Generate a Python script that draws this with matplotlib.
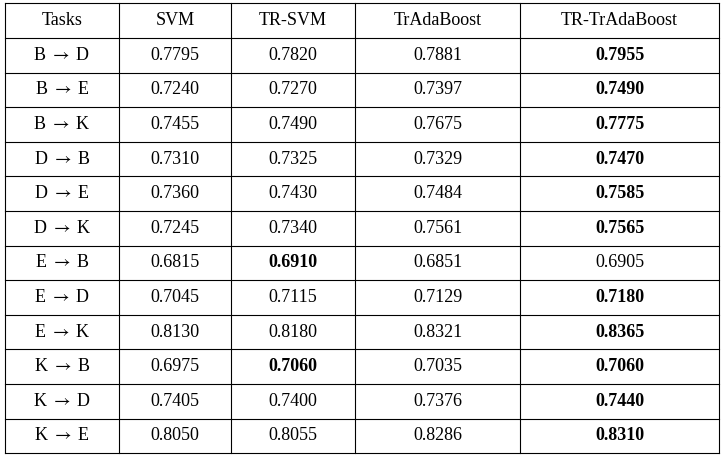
import matplotlib
matplotlib.use("Agg")
import matplotlib.pyplot as plt
plt.rcParams["mathtext.fontset"] = "stix"

headers = ["Tasks", "SVM", "TR-SVM", "TrAdaBoost", "TR-TrAdaBoost"]
tasks = ["B → D", "B → E", "B → K", "D → B", "D → E", "D → K",
         "E → B", "E → D", "E → K", "K → B", "K → D", "K → E"]
svm = [0.7795, 0.7240, 0.7455, 0.7310, 0.7360, 0.7245, 0.6815, 0.7045, 0.8130, 0.6975, 0.7405, 0.8050]
tr_svm = [0.7820, 0.7270, 0.7490, 0.7325, 0.7430, 0.7340, 0.6910, 0.7115, 0.8180, 0.7060, 0.7400, 0.8055]
tradaboost = [0.7881, 0.7397, 0.7675, 0.7329, 0.7484, 0.7561, 0.6851, 0.7129, 0.8321, 0.7035, 0.7376, 0.8286]
tr_tradaboost = [0.7955, 0.7490, 0.7775, 0.7470, 0.7585, 0.7565, 0.6905, 0.7180, 0.8365, 0.7060, 0.7440, 0.8310]

cols_x = [5, 119, 231, 355, 520, 719]
top, hdr_h, row_h = 3, 35, 34.6

fig = plt.figure(figsize=(7.24, 4.57), dpi=100)
ax = fig.add_axes([0, 0, 1, 1])
ax.set_xlim(0, 724); ax.set_ylim(457, 0); ax.axis("off")
font = "Liberation Serif"
n = len(tasks)
bottom = top + hdr_h + n * row_h
lw = 0.8
for x in cols_x:
    ax.plot([x, x], [top, bottom], color="black", lw=lw)
ys = [top] + [top + hdr_h + i * row_h for i in range(n + 1)]
for y in ys:
    ax.plot([cols_x[0], cols_x[-1]], [y, y], color="black", lw=lw)

centers = [(cols_x[i] + cols_x[i + 1]) / 2 for i in range(5)]
for i, h in enumerate(headers):
    ax.text(centers[i], top + hdr_h / 2, h, ha="center", va="center", fontsize=13, family=font)
for r in range(n):
    vals = [svm[r], tr_svm[r], tradaboost[r], tr_tradaboost[r]]
    m = max(vals)
    yc = top + hdr_h + (r + 0.5) * row_h
    label = tasks[r].replace(" → ", r" $\rightarrow$ ")
    ax.text(centers[0], yc, label, ha="center", va="center", fontsize=13, family=font)
    for j, v in enumerate(vals):
        ax.text(centers[j + 1], yc, f"{v:.4f}", ha="center", va="center", fontsize=13, family=font,
                fontweight="bold" if v == m else "normal")
fig.savefig("out.png", dpi=100)
